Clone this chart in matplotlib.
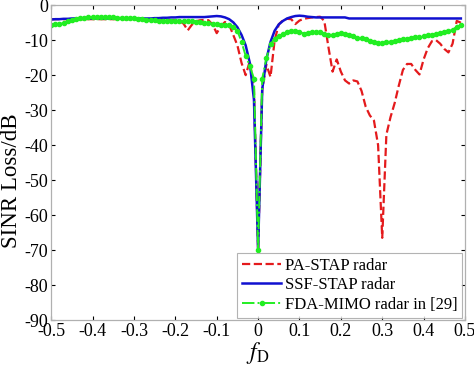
import numpy as np
import matplotlib
matplotlib.use('Agg')
import matplotlib.pyplot as plt

# Doppler grid -0.50 ... 0.49
fd = np.round(np.arange(-50, 50) * 0.01, 2)

pa_stap = [-4.0, -4.0, -4.0, -4.0, -4.0, -4.0, -4.0, -4.0, -4.0, -4.0,
           -4.0, -4.0, -4.0, -4.0, -4.0, -4.0, -4.0, -4.0, -4.0, -4.0,
           -4.1, -4.2, -4.2, -4.3, -4.3, -4.3, -4.3, -4.3, -4.3, -4.3,
           -4.3, -4.5, -5.3, -7.2, -5.6, -4.6, -4.3, -4.2, -4.3, -5.5,
           -8.0, -6.0, -4.8, -5.6, -8.5, -11.5, -16.5, -20.0, -16.0, -24.0,
           -70.0, -24.0, -17.0, -20.5, -10.0, -5.5, -4.3, -3.9, -4.0, -5.4,
           -4.4, -3.9, -3.7, -3.5, -3.4, -3.3, -4.5, -12.0, -19.0, -15.5,
           -19.0, -21.5, -22.4, -21.5, -21.8, -24.5, -29.0, -31.5, -33.0, -40.0,
           -66.5, -37.0, -32.0, -28.0, -23.0, -18.5, -16.8, -16.8, -18.5, -19.8,
           -15.5, -12.3, -10.3, -10.0, -11.0, -12.5, -13.5, -11.0, -4.5, -5.0]

ssf_stap = [-4.1, -4.0, -4.0, -3.9, -3.9, -3.8, -3.8, -3.8, -3.8, -3.8,
            -3.8, -3.8, -3.8, -3.8, -3.8, -3.8, -3.8, -3.8, -3.8, -3.8,
            -3.8, -3.8, -3.8, -3.8, -3.8, -3.7, -3.7, -3.6, -3.6, -3.5,
            -3.5, -3.4, -3.4, -3.4, -3.4, -3.4, -3.4, -3.4, -3.3, -3.2,
            -3.1, -3.2, -3.5, -4.0, -4.9, -6.3, -8.5, -11.5, -16.5, -27.0,
            -70.0, -24.0, -15.5, -10.5, -7.3, -5.5, -4.5, -3.8, -3.4, -3.1,
            -3.0, -3.1, -3.3, -3.4, -3.5, -3.5, -3.5, -3.5, -3.5, -3.5,
            -3.5, -3.5, -3.8, -3.8, -3.8, -3.8, -3.8, -3.8, -3.8, -3.8,
            -3.8, -3.8, -3.8, -3.8, -3.8, -3.8, -3.8, -3.8, -3.8, -3.8,
            -3.8, -3.8, -3.8, -3.8, -3.8, -3.8, -3.8, -3.8, -3.8, -3.8]

fda_mimo = [-5.7, -5.5, -5.4, -5.1, -4.6, -4.1, -3.9, -3.7, -3.6, -3.5,
            -3.5, -3.4, -3.3, -3.4, -3.5, -3.5, -3.6, -3.6, -3.7, -3.8,
            -3.8, -3.9, -4.0, -4.1, -4.2, -4.3, -4.4, -4.5, -4.6, -4.5,
            -4.5, -4.5, -4.5, -4.6, -4.6, -4.7, -4.8, -5.0, -5.2, -5.4,
            -5.5, -5.6, -5.6, -5.7, -6.2, -7.3, -10.5, -14.5, -17.3, -21.0,
            -70.0, -21.0, -15.2, -11.2, -9.6, -8.8, -8.1, -7.8, -7.4, -7.3,
            -7.7, -8.1, -7.9, -7.6, -7.7, -7.8, -8.1, -8.4, -8.6, -8.3,
            -8.0, -8.1, -8.4, -8.9, -9.3, -9.5, -9.8, -10.1, -10.4, -10.7,
            -10.8, -10.6, -10.4, -10.2, -10.0, -9.8, -9.6, -9.4, -9.2, -9.0,
            -8.8, -8.6, -8.4, -8.2, -7.9, -7.7, -7.5, -7.0, -6.3, -5.7]

labels = ['PA-STAP radar', 'SSF-STAP radar', 'FDA-MIMO radar in [29]']

plt.rcParams['font.family'] = 'Liberation Serif'
plt.rcParams['mathtext.fontset'] = 'stix'

fig = plt.figure(figsize=(4.74, 3.70), dpi=100)
ax = fig.add_axes([0.108, 0.135, 0.873, 0.851])

ax.plot(fd, pa_stap, '--', color='#e41a1c', lw=1.6, label=labels[0])
ax.plot(fd, ssf_stap, '-', color='#1010d0', lw=1.8, label=labels[1])
ax.plot(fd, fda_mimo, '-.', color='#22ee22', lw=1.4, marker='.', ms=6,
        label=labels[2])

ax.set_xlim(-0.5, 0.5)
ax.set_ylim(-90, 0)
ax.set_xticks(np.round(np.arange(-5, 6) * 0.1, 1))
ax.set_xticklabels(['-0.5', '-0.4', '-0.3', '-0.2', '-0.1', '0',
                    '0.1', '0.2', '0.3', '0.4', '0.5'])
ax.set_yticks(np.arange(-90, 1, 10))
ax.set_yticklabels([str(v) for v in np.arange(-90, 1, 10)])
ax.tick_params(direction='in', length=3, width=0.8, labelsize=13,
               top=True, right=True, pad=2)
for s in ax.spines.values():
    s.set_color('#b0b0b0')
    s.set_linewidth(0.9)

ax.set_ylabel('SINR Loss/dB', fontsize=16.5)
ax.yaxis.set_label_coords(-0.07, 0.444)
ax.set_xlabel(r'$f_{\mathrm{D}}$', fontsize=17, labelpad=0)

leg = ax.legend(loc='lower right', fontsize=12, handlelength=2.3,
                fancybox=False, borderaxespad=0.15, borderpad=0.3,
                labelspacing=0.2, handletextpad=0.25)
leg.get_frame().set_edgecolor('#a0a0a0')
leg.get_frame().set_linewidth(0.8)

fig.savefig('out.png', dpi=100)
